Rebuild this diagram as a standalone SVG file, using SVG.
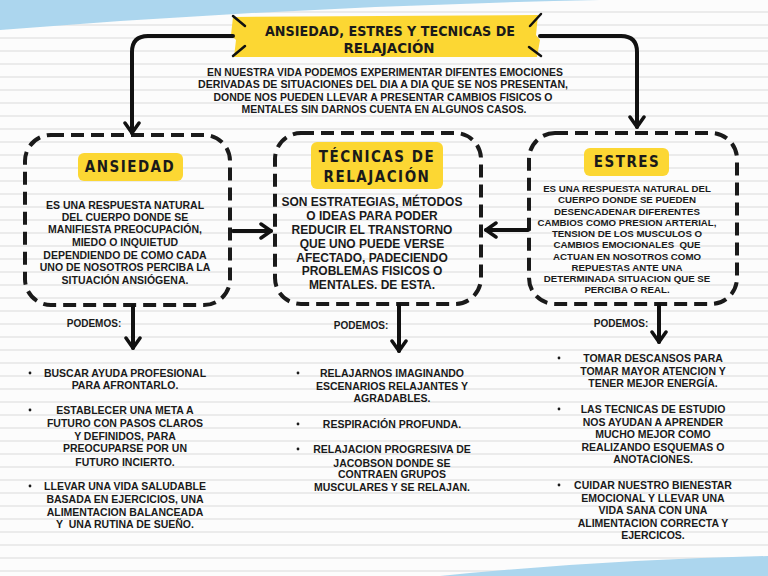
<svg xmlns="http://www.w3.org/2000/svg" width="768" height="576" viewBox="0 0 768 576">
<style>
.t{font-family:"Liberation Sans",Arial,sans-serif;font-weight:bold;fill:#1a1a1a;text-anchor:middle}
.hd{font-family:"DejaVu Sans Condensed","DejaVu Sans",sans-serif;font-weight:bold;fill:#1a1a1a;text-anchor:middle;letter-spacing:1.5px}
.box{fill:none;stroke:#1a1a1a;stroke-width:4;stroke-dasharray:13 7}
.tag{fill:#fcd733}
.con{fill:none;stroke:#111;stroke-width:4;stroke-linecap:round;stroke-linejoin:round}
.dot{fill:#1a1a1a}
</style>
<defs>
<pattern id="rule" width="768" height="13" patternUnits="userSpaceOnUse">
<rect width="768" height="13" fill="#fcfcfc"/>
<line x1="0" y1="12" x2="768" y2="12" stroke="#e6e6e6" stroke-width="1.4"/>
</pattern>
<marker id="ah" viewBox="0 0 14 18" refX="12" refY="9" markerWidth="14" markerHeight="18" markerUnits="userSpaceOnUse" orient="auto">
<path d="M2,2 L12,9 L2,16" fill="none" stroke="#111" stroke-width="3.5" stroke-linecap="round" stroke-linejoin="round"/>
</marker>
</defs>
<rect width="768" height="576" fill="url(#rule)"/>
<path d="M0,0 H600 Q300,6 0,30 Z" fill="#acd6ee"/>
<path d="M440,576 Q600,560 768,556 V576 Z" fill="#acd6ee"/>

<g id="title">
<path d="M233,17 L538,15 L536,35 L540,40 L537,57 L234,57 L236,40 L231,35 Z" class="tag"/>
<g stroke="#111" stroke-width="2.5" stroke-linecap="round">
<line x1="233" y1="16" x2="245" y2="26"/>
<line x1="541" y1="14" x2="530" y2="26"/>
<line x1="233" y1="56" x2="245" y2="46"/>
<line x1="541" y1="56" x2="529" y2="47"/>
</g>
<text class="hd" x="390" y="36" font-size="14" style="letter-spacing:0" textLength="250" lengthAdjust="spacingAndGlyphs">ANSIEDAD, ESTRES Y TECNICAS DE</text>
<text class="hd" x="389" y="53" font-size="14" style="letter-spacing:0" textLength="91" lengthAdjust="spacingAndGlyphs">RELAJACIÓN</text>
</g>

<g id="intro">
<text class="t" font-size="10" x="385" y="76" textLength="356" lengthAdjust="spacingAndGlyphs">EN NUESTRA VIDA PODEMOS EXPERIMENTAR DIFENTES EMOCIONES</text>
<text class="t" font-size="10" x="383" y="88" textLength="370" lengthAdjust="spacingAndGlyphs">DERIVADAS DE SITUACIONES DEL DIA A DIA QUE SE NOS PRESENTAN,</text>
<text class="t" font-size="10" x="383" y="101" textLength="339" lengthAdjust="spacingAndGlyphs">DONDE NOS PUEDEN LLEVAR A PRESENTAR CAMBIOS FISICOS O</text>
<text class="t" font-size="10" x="384" y="113" textLength="285" lengthAdjust="spacingAndGlyphs">MENTALES SIN DARNOS CUENTA EN ALGUNOS CASOS.</text>
</g>

<g id="ansiedad">
<rect class="box" x="25" y="135" width="205" height="170" rx="26"/>
<rect class="tag" x="78" y="153" width="105" height="28" rx="6"/>
<text class="hd" x="130" y="172" font-size="15">ANSIEDAD</text>
<g font-size="10.5">
<text class="t" x="125" y="209">ES UNA RESPUESTA NATURAL</text>
<text class="t" x="125" y="221">DEL CUERPO DONDE SE</text>
<text class="t" x="125" y="233">MANIFIESTA PREOCUPACIÓN,</text>
<text class="t" x="125" y="246">MIEDO O INQUIETUD</text>
<text class="t" x="125" y="259">DEPENDIENDO DE COMO CADA</text>
<text class="t" x="125" y="271">UNO DE NOSOTROS PERCIBA LA</text>
<text class="t" x="125" y="284">SITUACIÓN ANSIÓGENA.</text>
</g>
</g>

<g id="tecnicas">
<rect class="box" x="275" y="133" width="206" height="171" rx="26"/>
<rect class="tag" x="311" y="142" width="132" height="47" rx="6"/>
<text class="hd" x="377" y="162" font-size="15">TÉCNICAS DE</text>
<text class="hd" x="377" y="182" font-size="15">RELAJACIÓN</text>
<g font-size="12">
<text class="t" x="372" y="206">SON ESTRATEGIAS, MÉTODOS</text>
<text class="t" x="372" y="220">O IDEAS PARA PODER</text>
<text class="t" x="372" y="234">REDUCIR EL TRANSTORNO</text>
<text class="t" x="372" y="248">QUE UNO PUEDE VERSE</text>
<text class="t" x="372" y="262">AFECTADO, PADECIENDO</text>
<text class="t" x="372" y="275">PROBLEMAS FISICOS O</text>
<text class="t" x="372" y="289">MENTALES. DE ESTA.</text>
</g>
</g>

<g id="estres">
<rect class="box" x="529" y="133" width="208" height="171" rx="26"/>
<rect class="tag" x="584" y="148" width="85" height="28" rx="6"/>
<text class="hd" x="627" y="167" font-size="15">ESTRES</text>
<g font-size="9.7">
<text class="t" x="627" y="192">ES UNA RESPUESTA NATURAL DEL</text>
<text class="t" x="627" y="203">CUERPO DONDE SE PUEDEN</text>
<text class="t" x="627" y="215">DESENCADENAR DIFERENTES</text>
<text class="t" x="627" y="226">CAMBIOS COMO PRESION ARTERIAL,</text>
<text class="t" x="627" y="237">TENSION DE LOS MUSCULOS O</text>
<text class="t" x="627" y="248" xml:space="preserve">CAMBIOS EMOCIONALES  QUE</text>
<text class="t" x="627" y="260">ACTUAN EN NOSOTROS COMO</text>
<text class="t" x="627" y="271">REPUESTAS ANTE UNA</text>
<text class="t" x="627" y="282">DETERMINADA SITUACION QUE SE</text>
<text class="t" x="627" y="293">PERCIBA O REAL.</text>
</g>
</g>

<g id="connectors">
<path class="con" d="M233,36 H148 Q132,36 132,52 V133" marker-end="url(#ah)"/>
<path class="con" d="M540,36 H621 Q637,36 637,52 V127" marker-end="url(#ah)"/>
<path class="con" d="M233,231 H271" marker-end="url(#ah)"/>
<path class="con" d="M528,230 H486" marker-end="url(#ah)"/>
<path class="con" d="M133,306 V348" marker-end="url(#ah)"/>
<path class="con" d="M399,305 V351" marker-end="url(#ah)"/>
<path class="con" d="M659,305 V342" marker-end="url(#ah)"/>
</g>

<g id="podemos">
<text class="t" font-size="10" x="94" y="327">PODEMOS:</text>
<text class="t" font-size="10" x="361" y="329">PODEMOS:</text>
<text class="t" font-size="10" x="621" y="327">PODEMOS:</text>
</g>

<g id="list-ansiedad" font-size="10.5">
<circle class="dot" cx="30" cy="373" r="1.4"/>
<circle class="dot" cx="30" cy="410" r="1.4"/>
<circle class="dot" cx="30" cy="486" r="1.4"/>
<text class="t" x="125" y="377">BUSCAR AYUDA PROFESIONAL</text>
<text class="t" x="125" y="389">PARA AFRONTARLO.</text>
<text class="t" x="125" y="414">ESTABLECER UNA META A</text>
<text class="t" x="125" y="427">FUTURO CON PASOS CLAROS</text>
<text class="t" x="125" y="440">Y DEFINIDOS, PARA</text>
<text class="t" x="125" y="452">PREOCUPARSE POR UN</text>
<text class="t" x="125" y="466">FUTURO INCIERTO.</text>
<text class="t" x="125" y="490">LLEVAR UNA VIDA SALUDABLE</text>
<text class="t" x="125" y="503">BASADA EN EJERCICIOS, UNA</text>
<text class="t" x="125" y="516">ALIMENTACION BALANCEADA</text>
<text class="t" x="125" y="528" xml:space="preserve">Y  UNA RUTINA DE SUEÑO.</text>
</g>

<g id="list-tecnicas" font-size="10.5">
<circle class="dot" cx="298" cy="373" r="1.4"/>
<circle class="dot" cx="298" cy="424" r="1.4"/>
<circle class="dot" cx="298" cy="449" r="1.4"/>
<text class="t" x="392" y="377">RELAJARNOS IMAGINANDO</text>
<text class="t" x="392" y="390">ESCENARIOS RELAJANTES Y</text>
<text class="t" x="392" y="402">AGRADABLES.</text>
<text class="t" x="392" y="428">RESPIRACIÓN PROFUNDA.</text>
<text class="t" x="392" y="453">RELAJACION PROGRESIVA DE</text>
<text class="t" x="392" y="467">JACOBSON DONDE SE</text>
<text class="t" x="392" y="478">CONTRAEN GRUPOS</text>
<text class="t" x="392" y="491">MUSCULARES Y SE RELAJAN.</text>
</g>

<g id="list-estres" font-size="10.5">
<circle class="dot" cx="559" cy="358" r="1.4"/>
<circle class="dot" cx="559" cy="409" r="1.4"/>
<circle class="dot" cx="559" cy="485" r="1.4"/>
<text class="t" x="653" y="362">TOMAR DESCANSOS PARA</text>
<text class="t" x="653" y="375">TOMAR MAYOR ATENCION Y</text>
<text class="t" x="653" y="387">TENER MEJOR ENERGÍA.</text>
<text class="t" x="653" y="413">LAS TECNICAS DE ESTUDIO</text>
<text class="t" x="653" y="426">NOS AYUDAN A APRENDER</text>
<text class="t" x="653" y="438">MUCHO MEJOR COMO</text>
<text class="t" x="653" y="451">REALIZANDO ESQUEMAS O</text>
<text class="t" x="653" y="463">ANOTACIONES.</text>
<text class="t" x="653" y="489">CUIDAR NUESTRO BIENESTAR</text>
<text class="t" x="653" y="502">EMOCIONAL Y LLEVAR UNA</text>
<text class="t" x="653" y="514">VIDA SANA CON UNA</text>
<text class="t" x="653" y="527">ALIMENTACION CORRECTA Y</text>
<text class="t" x="653" y="539">EJERCICOS.</text>
</g>
</svg>
